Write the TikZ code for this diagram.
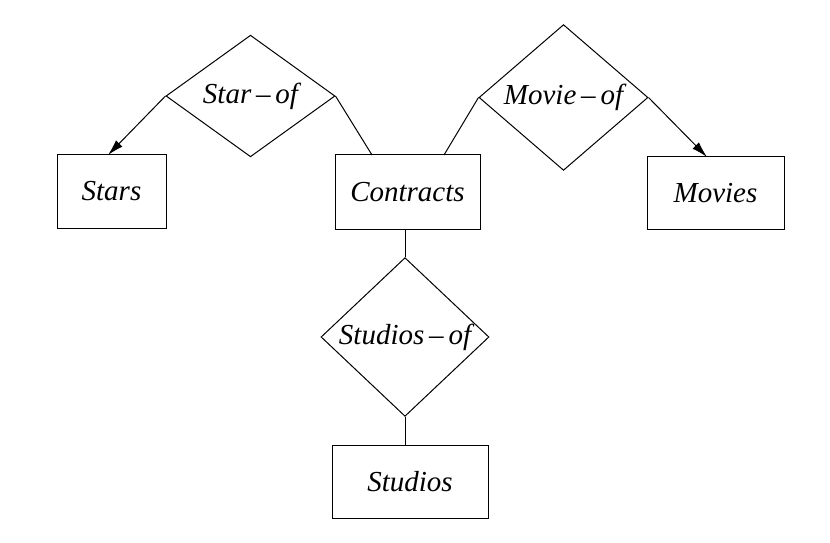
\documentclass[tikz,border=0pt]{standalone}
\usepackage{fontspec}
\setmainfont{Liberation Serif}
\usetikzlibrary{shapes.geometric,arrows.meta}
\begin{document}
\begin{tikzpicture}[x=1pt,y=1pt,
  ent/.style={draw,line width=1pt,font=\fontsize{29}{29}\selectfont\itshape,inner sep=0pt},
  rel/.style={draw,line width=1pt,diamond,font=\fontsize{29}{29}\selectfont\itshape,inner sep=0pt},
  lk/.style={line width=1pt},
  ar/.style={line width=1pt,-{Latex[length=16pt,width=9pt]}}]
\useasboundingbox (0,0) rectangle (830,542);
\node[ent,minimum width=109pt,minimum height=73pt] (stars) at (111.5,350.5) {Stars};
\node[ent,minimum width=145pt,minimum height=74pt] (contracts) at (407.5,350) {Contracts};
\node[ent,minimum width=137pt,minimum height=72pt] (movies) at (715.5,349) {Movies};
\node[ent,minimum width=156pt,minimum height=73pt] (studios) at (410,60.5) {Studios};
\node[rel,minimum width=169pt,minimum height=121pt] (starof) at (250.5,446) {Star{\upshape\,--\,}of};
\node[rel,minimum width=169pt,minimum height=121pt] (movieof) at (563.5,444.5) {Movie{\upshape\,--\,}of};
\node[rel,minimum width=168pt,minimum height=120pt] (studiosof) at (405,205) {Studios{\upshape\,--\,}of};
\coordinate (sa) at (108,387);
\coordinate (ca) at (372,387);
\coordinate (cb) at (444,387);
\coordinate (ma) at (707,385);
\draw[ar] (starof.west) -- (sa);
\draw[lk] (starof.east) -- (ca);
\draw[lk] (movieof.west) -- (cb);
\draw[ar] (movieof.east) -- (ma);
\draw[lk] (contracts.south -| studiosof.north) -- (studiosof.north);
\draw[lk] (studiosof.south) -- (studiosof.south |- studios.north);
\end{tikzpicture}
\end{document}
